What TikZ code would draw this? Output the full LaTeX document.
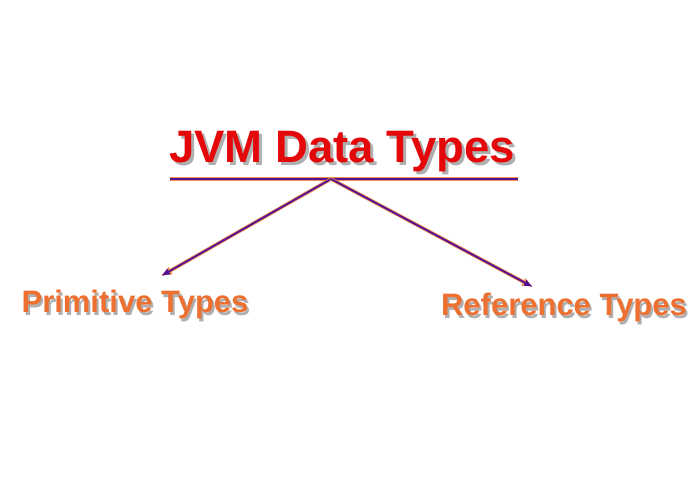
\documentclass[tikz,border=0pt]{standalone}
\usepackage{fontspec}
\setmainfont{Liberation Sans}
\usetikzlibrary{arrows.meta}
\definecolor{titlered}{RGB}{228,8,10}
\definecolor{labelorange}{RGB}{238,112,48}
\definecolor{shadowgray}{RGB}{175,175,175}
\definecolor{linepurple}{RGB}{82,16,150}
\definecolor{lineorange}{RGB}{240,140,80}

\begin{document}
\begin{tikzpicture}[x=1pt, y=1pt,
    titletext/.style={font=\fontsize{45.5}{45.5}\selectfont\bfseries, anchor=base, inner sep=0pt},
    labeltext/.style={font=\fontsize{31}{31}\selectfont\bfseries, anchor=base, inner sep=0pt},
    rule/.style={draw=linepurple, line width=1.8pt, preaction={draw=lineorange, line width=3.2pt}},
    pointer/.style={rule, -{Latex[length=9pt,width=7pt]},
      preaction={draw=lineorange, line width=3.2pt, -{Latex[length=11pt,width=9pt]}}}]
	\useasboundingbox (0,0) rectangle (700,480);
	% title with its shadow
	\node[titletext, shadowgray] (titleshadow) at (345,315) {JVM Data Types};
	\node[titletext, titlered] (title) at (342,318) {JVM Data Types};
	% the two kinds
	\node[labeltext, shadowgray] (primshadow) at (137,165) {Primitive Types};
	\node[labeltext, labelorange] (prim) at (135,168) {Primitive Types};
	\node[labeltext, shadowgray] (refshadow) at (566,162) {Reference Types};
	\node[labeltext, labelorange] (ref) at (564,165) {Reference Types};
	% underline and arrows
	\coordinate (ul) at (170,301);
	\coordinate (ur) at (518,301);
	\coordinate (apex) at (331,301);
	\coordinate (primtip) at (161,204);
	\coordinate (reftip) at (533,193);
	\draw[rule] (ul) -- (ur);
	\draw[pointer] (apex) -- (primtip);
	\draw[pointer] (apex) -- (reftip);
\end{tikzpicture}
\end{document}
